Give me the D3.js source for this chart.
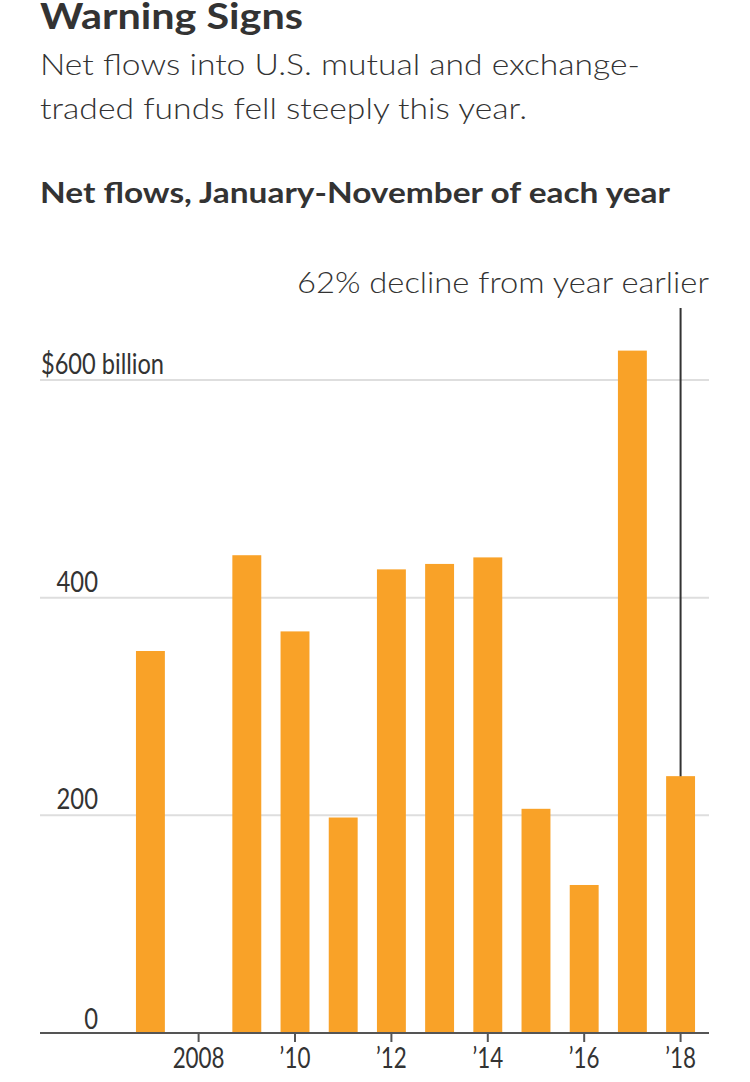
<!DOCTYPE html>
<html><head><meta charset="utf-8">
<script src="https://cdn.jsdelivr.net/npm/d3@7"></script>
<style>
html,body{margin:0;padding:0;background:#fff;}
svg{display:block;}
text{font-family:"Lato","Noto Sans",sans-serif;fill:#333;}
</style></head>
<body>
<svg id="chart" width="750" height="1082"></svg>
<script>
const years = [2007, 2008, 2009, 2010, 2011, 2012, 2013, 2014, 2015, 2016, 2017, 2018];
const netFlows = [351, 0, 439, 369, 198, 426, 431, 437, 206, 136, 627, 236];
const yTicks = [0, 200, 400, 600];
const xTickYears = [2008, 2010, 2012, 2014, 2016, 2018];
const xTickLabels = ["2008", "\u201910", "\u201912", "\u201914", "\u201916", "\u201918"];
const title = "Warning Signs";
const subtitle = ["Net flows into U.S. mutual and exchange-", "traded funds fell steeply this year."];
const heading = "Net flows, January-November of each year";
const annotation = "62% decline from year earlier";

(function () {
const svg = d3.select("#chart");
const mLeft = 40, mRight = 709, mTop = 380, mBottom = 1033;

const x = d3.scaleBand().domain(years).range([121.5, 709.5]).paddingInner(0.4).paddingOuter(0.3);
const y = d3.scaleLinear().domain([0, 600]).range([mBottom, mTop]);

function fitText(sel, w) {
  sel.attr("textLength", w).attr("lengthAdjust", "spacingAndGlyphs");
}
function condense(sel, f) {
  sel.each(function () {
    const w = this.getComputedTextLength();
    d3.select(this).attr("textLength", w * f).attr("lengthAdjust", "spacingAndGlyphs");
  });
}

// Titles
svg.append("text").attr("x", 40).attr("y", 28.5).attr("font-size", 36).attr("font-weight", 700)
  .text(title).call(fitText, 263);
svg.append("text").attr("x", 40).attr("y", 75).attr("font-size", 30).attr("font-weight", 300)
  .text(subtitle[0]).call(fitText, 600);
svg.append("text").attr("x", 40).attr("y", 119).attr("font-size", 30).attr("font-weight", 300)
  .text(subtitle[1]).call(fitText, 487);
svg.append("text").attr("x", 40).attr("y", 203).attr("font-size", 29).attr("font-weight", 700)
  .text(heading).call(fitText, 630);

// Gridlines
svg.append("g").selectAll("line").data(yTicks.filter(d => d > 0)).join("line")
  .attr("x1", mLeft).attr("x2", mRight)
  .attr("y1", d => y(d)).attr("y2", d => y(d))
  .attr("stroke", "#dedede").attr("stroke-width", 2);

// Y labels
const yl = svg.append("g");
yTicks.forEach(t => {
  if (t === 600) {
    yl.append("text").attr("x", 41).attr("y", y(t) - 6).attr("font-size", 28)
      .text("$600 billion").call(fitText, 123);
  } else {
    yl.append("text").attr("x", 98).attr("y", y(t) - (t === 0 ? 4 : 6)).attr("font-size", 28)
      .attr("text-anchor", "end").text(String(t)).call(condense, 0.85);
  }
});

// Bars
svg.append("g").selectAll("rect").data(years.map((yr, i) => ({yr, v: netFlows[i]}))).join("rect")
  .attr("x", d => x(d.yr)).attr("width", x.bandwidth())
  .attr("y", d => y(Math.max(0, d.v))).attr("height", d => Math.abs(y(d.v) - y(0)))
  .attr("fill", "#f9a228");

// X axis
svg.append("line").attr("x1", mLeft).attr("x2", mRight).attr("y1", mBottom).attr("y2", mBottom)
  .attr("stroke", "#555").attr("stroke-width", 2);
const xt = svg.append("g");
xTickYears.forEach((yr, i) => {
  const cx = x(yr) + x.bandwidth() / 2;
  xt.append("line").attr("x1", cx).attr("x2", cx).attr("y1", mBottom).attr("y2", mBottom + 9)
    .attr("stroke", "#555").attr("stroke-width", 2);
  xt.append("text").attr("x", cx).attr("y", 1068).attr("font-size", 28)
    .attr("text-anchor", "middle").text(xTickLabels[i]).call(condense, 0.8);
});

// Annotation
const ax = x(2018) + x.bandwidth() / 2;
svg.append("text").attr("x", 709).attr("y", 293).attr("font-size", 30).attr("font-weight", 300)
  .attr("text-anchor", "end").text(annotation).call(fitText, 412);
svg.append("line").attr("x1", ax).attr("x2", ax).attr("y1", 308).attr("y2", y(netFlows[11]))
  .attr("stroke", "#333").attr("stroke-width", 2);
})();
</script>
</body></html>
